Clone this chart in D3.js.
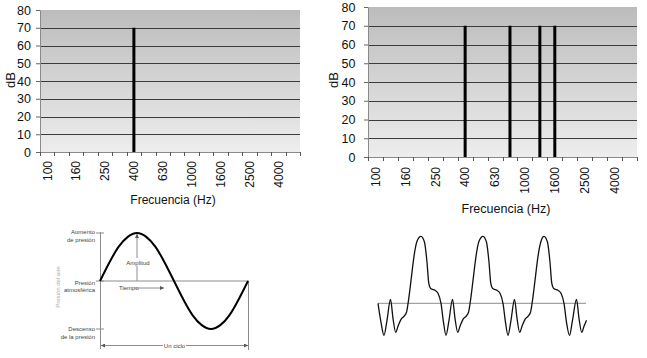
<!DOCTYPE html>
<html>
<head>
<meta charset="utf-8">
<script src="https://cdn.jsdelivr.net/npm/d3@7/dist/d3.min.js"></script>
<style>
  body { margin: 0; background: #fff; }
  svg { display: block; font-family: "Liberation Sans", Arial, sans-serif; }
</style>
</head>
<body>
<script>
// bandas de tercio de octava (Hz)
var bandas = ["100","125","160","200","250","315","400","500","630","800","1000","1250","1600","2000","2500","3150","4000","5000"]
var etiquetasX = ["100","160","250","400","630","1000","1600","2500","4000"]
var ticksY = [0,10,20,30,40,50,60,70,80]

// tono puro
var tonosA = ["400"]
var nivelesA = [70]
// tono complejo
var tonosB = ["400","800","1250","1600"]
var nivelesB = [70,70,70,70]

// onda senoidal (fraccion de ciclo, presion relativa)
var senoT = [0,0.0625,0.125,0.1875,0.25,0.3125,0.375,0.4375,0.5,0.5625,0.625,0.6875,0.75,0.8125,0.875,0.9375,1]
var senoP = [0,0.38,0.71,0.92,1,0.92,0.71,0.38,0,-0.38,-0.71,-0.92,-1,-0.92,-0.71,-0.38,0]

// onda compleja (tiempo, presion)
var ondaT = [0,3,6,9,12.5,15,17.7,20,23,26,28.5,30.5,33.5,36,39,43,46.5,49,50.8,53,57,60,63,65.5,68,
  71,74.5,77,79.7,82,85,88,90.5,92.5,95.5,98,101,105,108.5,111,112.8,115,119,122,125,127.5,130,
  133,136.5,139,141.7,144,147,150,152.5,154.5,157.5,160,163,166,169.5,172,173.8,176,180,183,186,188.5,191.5,
  194.5,198.5,201,203.7,206,208.5]
var ondaP = [0,-19,-32,-17,4,-15,-29,-23,-16,-13,-9,3,27,47,62,67,61,41,20,14.5,13,10,0,-19,-32,
  -17,4,-15,-29,-23,-16,-13,-9,3,27,47,62,67,61,41,20,14.5,13,10,0,-19,-32,
  -17,4,-15,-29,-23,-16,-13,-9,3,27,47,62,67,61,41,20,14.5,13,10,0,-19,-32,
  -17,4,-15,-29,-23,-17]

var svg = d3.select('body').append('svg')
  .attr('width', 647).attr('height', 358)
var defs = svg.append('defs')

var grad = defs.append('linearGradient').attr('id','fondo')
  .attr('x1',0).attr('y1',0).attr('x2',0).attr('y2',1)
grad.append('stop').attr('offset','0%').attr('stop-color','#bcbcbc')
grad.append('stop').attr('offset','100%').attr('stop-color','#ededed')

function espectro(cfg, tonos, niveles){
  var x = d3.scaleBand().domain(bandas).range([cfg.left, cfg.right]).padding(0)
  var y = d3.scaleLinear().domain([0,80]).range([cfg.bottom, cfg.top])
  var g = svg.append('g')

  g.append('rect')
    .attr('x', cfg.left).attr('y', cfg.top)
    .attr('width', cfg.right - cfg.left).attr('height', cfg.bottom - cfg.top)
    .attr('fill','url(#fondo)')

  g.selectAll('.grid').data(ticksY.filter(function(d){ return d > 0 && d < 80 }))
    .enter().append('line')
    .attr('x1', cfg.left).attr('x2', cfg.right)
    .attr('y1', function(d){ return Math.round(y(d)) + 0.5 })
    .attr('y2', function(d){ return Math.round(y(d)) + 0.5 })
    .attr('stroke','#3c3c3c').attr('stroke-width',1)

  // barras
  g.selectAll('.bar').data(tonos)
    .enter().append('rect')
    .attr('x', function(d){ return x(d) + x.bandwidth()/2 - 1.5 })
    .attr('y', function(d,i){ return y(niveles[i]) })
    .attr('width', 3)
    .attr('height', function(d,i){ return y(0) - y(niveles[i]) })
    .attr('fill','#000')

  // eje y
  var ay = g.append('g').attr('transform','translate(' + cfg.left + ',0)')
    .call(d3.axisLeft(y).tickValues(ticksY).tickSize(4).tickPadding(cfg.padY).tickSizeOuter(0))
  ay.select('.domain').attr('stroke','#8a8a8a')
  ay.selectAll('line').attr('stroke','#666')
  ay.selectAll('text').attr('font-size', 12.5).attr('fill','#111')
    .attr('font-family','"Liberation Sans", Arial, sans-serif')

  // eje x
  var ax = g.append('g').attr('transform','translate(0,' + cfg.bottom + ')')
    .call(d3.axisBottom(x).tickValues(etiquetasX).tickSize(0).tickSizeOuter(0))
  ax.select('.domain').attr('stroke','#8a8a8a')
  ax.selectAll('text')
    .attr('font-size', 12).attr('fill','#111')
    .attr('font-family','"Liberation Sans", Arial, sans-serif')
    .attr('transform','rotate(-90)')
    .attr('text-anchor','end')
    .attr('x', -cfg.labX).attr('y', 0).attr('dy','0.36em')

  var bordes = bandas.map(function(d){ return x(d) }).concat([cfg.right])
  g.selectAll('.tk').data(bordes).enter().append('line')
    .attr('x1', function(d){ return Math.round(d) + 0.5 })
    .attr('x2', function(d){ return Math.round(d) + 0.5 })
    .attr('y1', cfg.bottom).attr('y2', cfg.bottom + 4)
    .attr('stroke','#555')

  g.append('text')
    .attr('transform','translate(' + cfg.dbX + ',' + cfg.dbY + ') rotate(-90)')
    .attr('text-anchor','middle').attr('dy','0.35em')
    .attr('font-size', 13).attr('fill','#111').text('dB')

  g.append('text')
    .attr('x', cfg.titX).attr('y', cfg.titY)
    .attr('text-anchor','middle')
    .attr('font-size', cfg.titSize).attr('fill','#111').text('Frecuencia (Hz)')
}

espectro({left:40, right:300, top:10, bottom:152, padY:5, labX:9, dbX:10, dbY:80, titX:173, titY:204, titSize:12}, tonosA, nivelesA)
espectro({left:368, right:637, top:7, bottom:157, padY:8.5, labX:10, dbX:333, dbY:80, titX:506, titY:213, titSize:12.5}, tonosB, nivelesB)

// ---- diagrama de la onda senoidal ----
defs.append('marker').attr('id','flecha')
  .attr('viewBox','0 0 10 10').attr('refX',10).attr('refY',5)
  .attr('markerWidth',5).attr('markerHeight',4).attr('orient','auto-start-reverse')
  .append('path').attr('d','M0,0L10,5L0,10z').attr('fill','#555')

var sx = d3.scaleLinear().domain([0,1]).range([100,248])
var sy = d3.scaleLinear().domain([-1,1]).range([329,233])
var s = svg.append('g')
var gris = '#8c8c8c'

s.append('line').attr('x1',sx(0)).attr('x2',sx(1)+1).attr('y1',sy(0)).attr('y2',sy(0)).attr('stroke',gris)
s.append('line').attr('x1',sx(0)+0.5).attr('x2',sx(0)+0.5).attr('y1',sy(1)-1).attr('y2',349).attr('stroke',gris)
s.append('line').attr('x1',sx(1)+0.5).attr('x2',sx(1)+0.5).attr('y1',sy(0)).attr('y2',350).attr('stroke',gris)
s.selectAll('.tk').data([1,0,-1]).enter().append('line')
  .attr('x1',sx(0)-4).attr('x2',sx(0)+4)
  .attr('y1',function(d){ return sy(d) }).attr('y2',function(d){ return sy(d) })
  .attr('stroke',gris)

s.append('path')
  .datum(senoT)
  .attr('d', d3.line().curve(d3.curveNatural)
    .x(function(d){ return sx(d) })
    .y(function(d,i){ return sy(senoP[i]) }))
  .attr('fill','none').attr('stroke','#000').attr('stroke-width',2)

var fs = 6
function rotulo(lineas, x, y0, anchor){
  var t = s.append('text').attr('x',x).attr('y',y0).attr('text-anchor',anchor)
    .attr('font-size',fs).attr('fill','#444')
  lineas.forEach(function(l,i){
    t.append('tspan').attr('x',x).attr('dy', i ? 7.5 : 0).text(l)
  })
}
rotulo(['Aumento','de presión'], 95, 234, 'end')
rotulo(['Presión','atmosférica'], 95, 284.5, 'end')
rotulo(['Descenso','de la presión'], 95, 331, 'end')
s.append('text').attr('transform','translate(60,287) rotate(-90)')
  .attr('text-anchor','middle').attr('font-size',fs).attr('fill','#aaa').text('Presión del aire')

// amplitud
s.append('line').attr('x1',sx(0.25)).attr('x2',sx(0.25)).attr('y1',sy(0)).attr('y2',sy(1)+1)
  .attr('stroke',gris).attr('marker-end','url(#flecha)')
s.append('rect').attr('x',126).attr('y',258).attr('width',24).attr('height',8).attr('fill','#fff')
s.append('text').attr('x',138).attr('y',264.5).attr('text-anchor','middle')
  .attr('font-size',fs).attr('fill','#444').text('Amplitud')

// tiempo
s.append('text').attr('x',119).attr('y',290).attr('font-size',fs).attr('fill','#444').text('Tiempo')
s.append('line').attr('x1',134).attr('x2',164).attr('y1',288).attr('y2',288)
  .attr('stroke',gris).attr('marker-end','url(#flecha)')

// un ciclo
s.append('line').attr('x1',sx(0)+1).attr('x2',sx(1)).attr('y1',345.5).attr('y2',345.5)
  .attr('stroke',gris).attr('marker-start','url(#flecha)').attr('marker-end','url(#flecha)')
s.append('rect').attr('x',163).attr('y',341).attr('width',23).attr('height',8).attr('fill','#fff')
s.append('text').attr('x',174.5).attr('y',347.5).attr('text-anchor','middle')
  .attr('font-size',fs).attr('fill','#444').text('Un ciclo')

// ---- onda compleja ----
var wx = d3.scaleLinear().domain([0,208.5]).range([378,586.5])
var wy = d3.scaleLinear().domain([-40,70]).range([343.3,233.3])
svg.append('line').attr('x1',378).attr('x2',586).attr('y1',wy(0)).attr('y2',wy(0))
  .attr('stroke','#8c8c8c')
svg.append('path')
  .datum(ondaT)
  .attr('d', d3.line().curve(d3.curveMonotoneX)
    .x(function(d){ return wx(d) })
    .y(function(d,i){ return wy(ondaP[i]) }))
  .attr('fill','none').attr('stroke','#111').attr('stroke-width',1.3)
</script>
</body>
</html>
